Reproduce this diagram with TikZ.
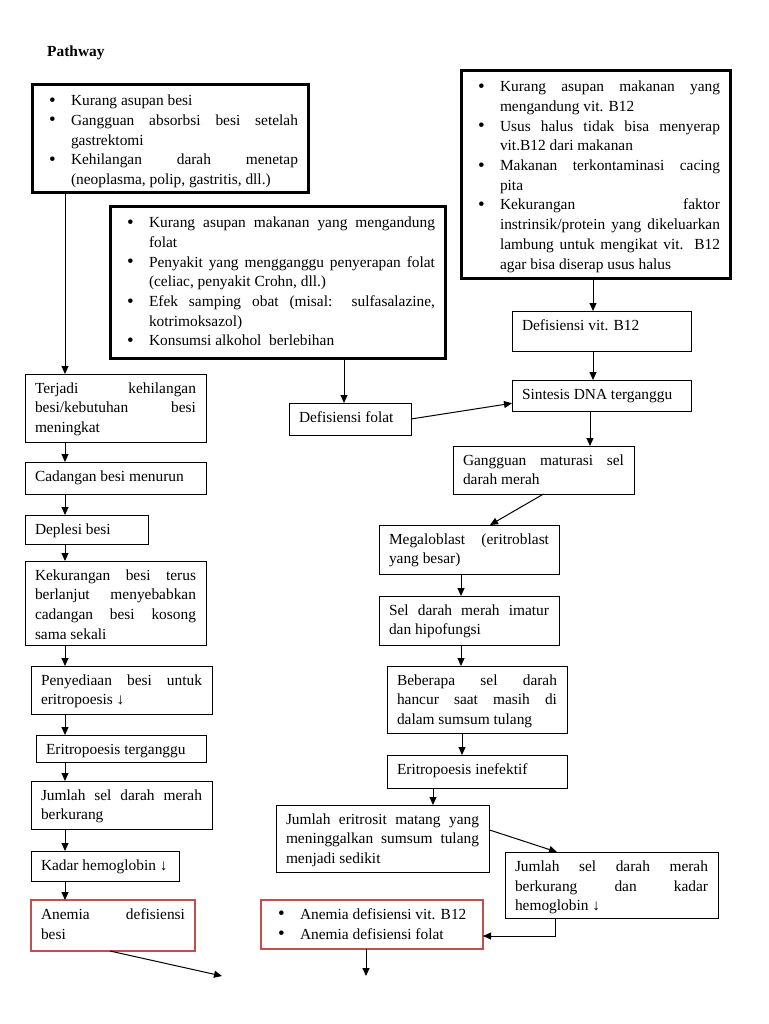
\documentclass[tikz,border=0pt]{standalone}
\usepackage{fontspec}
\setmainfont{Liberation Serif}
\usetikzlibrary{arrows.meta,calc}
\definecolor{redb}{RGB}{192,80,77}
\hyphenpenalty=10000
\exhyphenpenalty=10000
\tolerance=10000
\hbadness=10000
\newcommand{\bx}[3]{\parbox[t][\dimexpr#2pt-11pt\relax][t]{\dimexpr#1pt-20pt\relax}{\strut#3}}
\newcommand{\bxl}[3]{\parbox[t][\dimexpr#2pt-14pt\relax][t]{\dimexpr#1pt-20pt\relax}{#3}}
\newcommand{\itm}{\par\hangindent=29pt\hangafter=1\noindent\strut\hspace*{7pt}\makebox[22pt][l]{\raisebox{-0.5pt}{\fontsize{19pt}{19pt}\selectfont\textbullet}}}
\begin{document}
\begin{tikzpicture}[x=1pt,y=-1pt,
  box/.style={draw, line width=1pt, inner xsep=10pt, inner ysep=5.5pt, outer sep=0pt,
    anchor=north west, font=\fontsize{15.4pt}{19.7pt}\selectfont},
  thickbox/.style={box, line width=3pt, inner ysep=7pt},
  redbox/.style={box, draw=redb, line width=2.6pt},
  arr/.style={-{Triangle[length=8pt,width=7pt]}, line width=1pt}]
\useasboundingbox (0,0) rectangle (768,1024);

\node[anchor=base west, inner sep=0pt, font=\fontsize{15.4pt}{19.7pt}\selectfont\bfseries] (title) at (47,57) {Pathway};

% cause boxes
\node[thickbox] (a) at (32,85) {\bxl{276}{108}{%
\itm Kurang asupan besi
\itm Gangguan absorbsi besi setelah\linebreak gastrektomi
\itm Kehilangan darah menetap\linebreak (neoplasma, polip, gastritis, dll.)}};

\node[thickbox] (b) at (461,71) {\bxl{269}{207}{%
\itm Kurang asupan makanan yang\linebreak mengandung vit. B12
\itm Usus halus tidak bisa menyerap\linebreak vit.B12 dari makanan
\itm Makanan terkontaminasi cacing\linebreak pita
\itm Kekurangan faktor\linebreak instrinsik/protein yang dikeluarkan\linebreak lambung untuk mengikat vit. B12\linebreak agar bisa diserap usus halus}};

\node[thickbox] (c) at (110,207) {\bxl{335}{151}{%
\itm Kurang asupan makanan yang mengandung\linebreak folat
\itm Penyakit yang mengganggu penyerapan folat\linebreak (celiac, penyakit Crohn, dll.)
\itm Efek samping obat (misal: sulfasalazine,\linebreak kotrimoksazol)
\itm Konsumsi alkohol\ \ berlebihan}};

% left column
\node[box] (d) at (25,374) {\bx{181}{68}{Terjadi kehilangan\linebreak besi/kebutuhan besi\linebreak meningkat}};
\node[box] (e) at (25,462) {\bx{181}{32}{Cadangan besi menurun}};
\node[box] (f) at (25,515) {\bx{123}{29}{Deplesi besi}};
\node[box] (g) at (25,561) {\bx{181}{84}{Kekurangan besi terus\linebreak berlanjut menyebabkan\linebreak cadangan besi kosong\linebreak sama sekali}};
\node[box] (h) at (31,666) {\bx{181}{48}{Penyediaan besi untuk\linebreak eritropoesis ↓}};
\node[box] (i) at (36,735) {\bx{170}{27}{Eritropoesis terganggu}};
\node[box] (j) at (31,781) {\bx{181}{48}{Jumlah sel darah merah\linebreak berkurang}};
\node[box] (k) at (31,851) {\bx{148}{30}{Kadar hemoglobin ↓}};
\node[redbox] (l) at (31,900) {\bx{164}{51}{Anemia defisiensi\linebreak besi}};

% right column
\node[box] (m) at (289,403) {\bx{122}{32}{Defisiensi folat}};
\node[box] (n) at (512,311) {\bx{179}{40}{Defisiensi vit. B12}};
\node[box] (o) at (512,380) {\bx{179}{31}{Sintesis DNA terganggu}};
\node[box] (p) at (453,446) {\bx{181}{48}{Gangguan maturasi sel\linebreak darah merah}};
\node[box] (q) at (379,525) {\bx{180}{49}{Megaloblast (eritroblast\linebreak yang besar)}};
\node[box] (r) at (379,596) {\bx{180}{49}{Sel darah merah imatur\linebreak dan hipofungsi}};
\node[box] (s) at (387,666) {\bx{180}{67}{Beberapa sel darah\linebreak hancur saat masih di\linebreak dalam sumsum tulang}};
\node[box] (t) at (387,755) {\bx{180}{33}{Eritropoesis inefektif}};
\node[box] (u) at (276,805) {\bx{213}{67}{Jumlah eritrosit matang yang\linebreak meninggalkan sumsum tulang\linebreak menjadi sedikit}};
\node[box] (v) at (505,852) {\bx{213}{66}{Jumlah sel darah merah\linebreak berkurang dan kadar\linebreak hemoglobin ↓}};
\node[redbox] (w) at (261,900) {\bxl{222}{52}{%
\itm Anemia defisiensi vit. B12
\itm Anemia defisiensi folat}};

% coordinates for connector positions
\coordinate (xl) at (65,0);
\coordinate (lx) at (110,0);
\coordinate (lend) at (222,976);
\coordinate (cx) at (344,0);
\coordinate (bx) at (593,0);
\coordinate (ox) at (590,0);
\coordinate (qx) at (490,0);
\coordinate (rx) at (461,0);
\coordinate (sx) at (462,0);
\coordinate (tx) at (433,0);
\coordinate (vx) at (557,0);
\coordinate (vx2) at (555,0);
\coordinate (wy) at (0,936);
\coordinate (wx) at (366,0);
\coordinate (wend) at (366,976);

% left connectors
\draw[arr] (a.south -| xl) -- (d.north -| xl);
\draw[arr] (d.south -| xl) -- (e.north -| xl);
\draw[arr] (e.south -| xl) -- (f.north -| xl);
\draw[arr] (f.south -| xl) -- (g.north -| xl);
\draw[arr] (g.south -| xl) -- (h.north -| xl);
\draw[arr] (h.south -| xl) -- (i.north -| xl);
\draw[arr] (i.south -| xl) -- (j.north -| xl);
\draw[arr] (j.south -| xl) -- (k.north -| xl);
\draw[arr] (k.south -| xl) -- (l.north -| xl);
\draw[arr] (l.south -| lx) -- (lend);

% right connectors
\draw[arr] (c.south -| cx) -- (m.north -| cx);
\draw[arr] (m.east) -- ($(o.south west)!0.25!(o.north west)$);
\draw[arr] (b.south -| bx) -- (n.north -| bx);
\draw[arr] (n.south -| bx) -- (o.north -| bx);
\draw[arr] (o.south -| ox) -- (p.north -| ox);
\draw[arr] (p.south) -- (q.north -| qx);
\draw[arr] (q.south -| rx) -- (r.north -| rx);
\draw[arr] (r.south -| rx) -- (s.north -| rx);
\draw[arr] (s.south -| sx) -- (t.north -| sx);
\draw[arr] (t.south -| tx) -- (u.north -| tx);
\draw[arr] ($(u.north east)!0.37!(u.south east)$) -- (v.north -| vx);
\draw[arr] (v.south -| vx2) |- (w.east |- wy);
\draw[arr] (w.south -| wx) -- (wend);
\end{tikzpicture}
\end{document}
